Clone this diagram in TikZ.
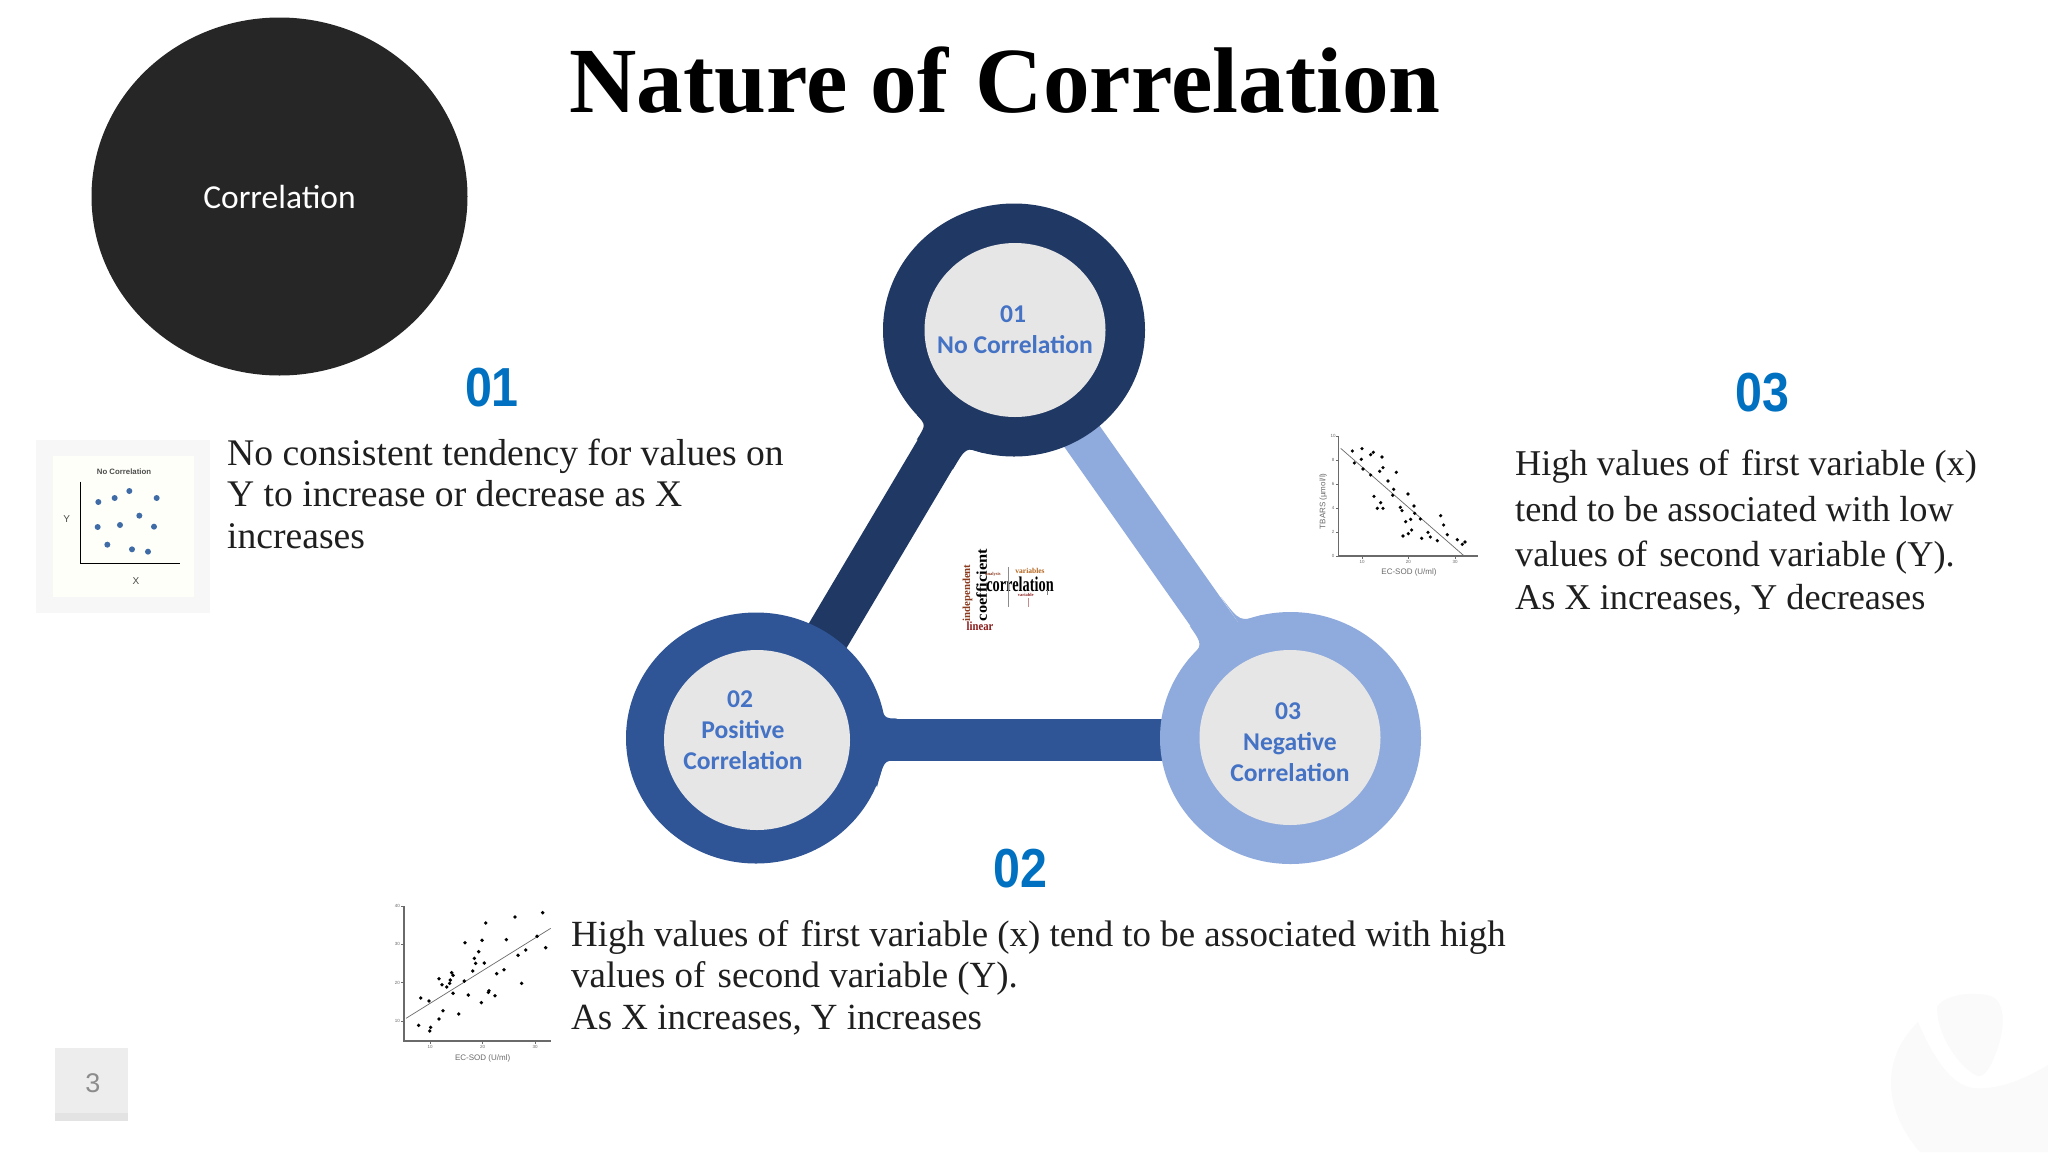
\documentclass[tikz,border=0pt]{standalone}
\usepackage{fontspec}
\setmainfont{Liberation Serif}
\newfontfamily\carl{Carlito}
\newfontfamily\libs{Liberation Sans}
\usetikzlibrary{shapes.geometric}
\pgfdeclarelayer{armlayer}
\pgfsetlayers{armlayer,main}
\definecolor{ringdark}{HTML}{203864}
\definecolor{ringmid}{HTML}{2F5597}
\definecolor{ringlight}{HTML}{8FAADC}
\definecolor{ringcore}{HTML}{E7E6E6}
\definecolor{ringtext}{HTML}{4472C4}
\definecolor{numblue}{HTML}{0070C0}
\definecolor{blackdisc}{HTML}{262626}
\definecolor{wmark}{HTML}{FAFAFA}
\definecolor{dotblue}{HTML}{3F6CA6}
\definecolor{plotgray}{HTML}{6A6A6A}
\definecolor{wcred}{HTML}{8B1A1A}
\definecolor{wcbrown}{HTML}{8B3A1E}
\definecolor{wcorange}{HTML}{B5651D}
\tikzset{
  ringnode/.style={ellipse,inner sep=0pt,outer sep=0pt},
  ringlabel/.style={font=\carl\bfseries\fontsize{25.6}{31}\selectfont,text=ringtext,align=center,inner sep=0pt},
  bignum/.style={font=\libs\bfseries\fontsize{55}{55}\selectfont,text=numblue,inner sep=0pt,xscale=.88,transform shape},
  bodytext/.style={text=black!88,align=left,anchor=north west,inner sep=0pt},
  plotaxis/.style={draw=plotgray,line width=1.3pt},
  ticklabel/.style={font=\libs\fontsize{4.5}{5}\selectfont,text=plotgray,inner sep=0pt},
  axistitle/.style={font=\libs\fontsize{8}{9}\selectfont,text=plotgray,inner sep=0pt},
  wcword/.style={font=\bfseries,inner sep=0pt},
}
\begin{document}
\begin{tikzpicture}[x=1pt,y=-1pt]
\useasboundingbox (0,0) rectangle (2048,1152);
\begin{pgfonlayer}{armlayer}
\fill[white] (0,0) rectangle (2048,1152);
\end{pgfonlayer}
% watermark
\fill[wmark] (1918,1022) .. controls (1900,1040) and (1891,1060) .. (1891,1083)
  .. controls (1891,1110) and (1905,1135) .. (1920,1152) -- (2048,1152) -- (2048,1065)
  .. controls (2020,1082) and (1995,1090) .. (1973,1088)
  .. controls (1950,1085) and (1932,1055) .. cycle;
\fill[wmark] (1937,1007) .. controls (1942,998) and (1960,993) .. (1975,994)
  .. controls (1990,994) and (1998,997) .. (2001,1008)
  .. controls (2005,1020) and (2002,1040) .. (1993,1060)
  .. controls (1988,1072) and (1982,1077) .. (1978,1076)
  .. controls (1965,1072) and (1937,1040) .. cycle;
% title
\node[font=\bfseries\fontsize{93.3}{93}\selectfont,inner sep=0pt] (title) at (1005,80) {Nature of\hspace{4pt} Correlation};
% black disc
\node[ringnode,fill=blackdisc,minimum width=376pt,minimum height=358pt,text=white,font=\carl\fontsize{33.5}{36}\selectfont] (disc) at (279.5,196.5) {Correlation};
% rings
\node[ringnode,fill=ringdark,minimum width=262pt,minimum height=253pt] (ringtop) at (1014,330) {};
\node[ringnode,fill=ringcore,minimum width=181pt,minimum height=174pt] (coretop) at (1015,330) {};
\node[ringnode,fill=ringmid,minimum width=260pt,minimum height=251pt] (ringleft) at (756,738) {};
\node[ringnode,fill=ringcore,minimum width=186pt,minimum height=180pt] (coreleft) at (757,740) {};
\node[ringnode,fill=ringlight,minimum width=261pt,minimum height=252pt] (ringright) at (1290.5,738) {};
\node[ringnode,fill=ringcore,minimum width=181pt,minimum height=175pt] (coreright) at (1290,737.5) {};
\begin{pgfonlayer}{armlayer}
\draw[ringlight,line width=41pt] ([shift={(-7,0)}]ringtop.center) -- ([shift={(4,0)}]ringright.center);
\draw[ringmid,line width=42pt] ([shift={(0,1.5)}]ringleft.center) -- ([shift={(0,1.5)}]ringright.center);
\draw[ringdark,line width=45pt] ([shift={(-5,0)}]ringtop.center) -- ([shift={(11,0)}]ringleft.center);
\fill[ringdark] (917,415) .. controls (926,425) .. (916.6,440) -- (940,430) -- cycle;
\fill[ringdark] (983,453) .. controls (966,447) .. (952.5,470) -- (960,435) -- cycle;
\fill[ringlight] (1221,597) .. controls (1240,622) .. (1262,615) -- (1250,640) -- cycle;
\fill[ringlight] (1189.7,626) .. controls (1203,645) .. (1188.4,660) -- (1222,640) -- cycle;
\fill[ringmid] (878,697) .. controls (884,718.5) .. (897,718.5) -- (897,730) -- (860,730) -- cycle;
\fill[ringmid] (877,787) .. controls (884,760.5) .. (897,760.5) -- (897,750) -- (860,750) -- cycle;
\end{pgfonlayer}
% ring labels
\node[ringlabel] (labtop) at (1015,330) {01\hspace*{4pt}\\No Correlation};
\node[ringlabel] (lableft) at (743,730) {02\hspace*{6pt}\\Positive\\Correlation};
\node[ringlabel] (labright) at (1290,742) {03\hspace*{4pt}\\Negative\\Correlation};
% big numbers
\node[bignum] (numa) at (492,388) {01};
\node[bignum] (numb) at (1020,868.5) {02};
\node[bignum] (numc) at (1762,393) {03};
% body text
\node[bodytext,font=\fontsize{37.6}{41.8}\selectfont] (texta) at (227,438.5) {No consistent tendency for values on\\Y to increase or decrease as X\\increases};
\node[bodytext,font=\fontsize{36.9}{41.8}\selectfont] (textb) at (571,920) {High values of\hspace{3pt} first variable (x) tend to be associated with high\\values of\hspace{3pt} second variable (Y).\\As X increases, Y increases};
\node[bodytext,font=\fontsize{36.3}{45.5}\selectfont] (textc) at (1515,450) {High values of\hspace{3pt} first variable (x)\\tend to be associated with low\\values of\hspace{3pt} second variable (Y).\\[-3pt]As X increases, Y decreases};
% page number
\fill[black!7] (55,1048) rectangle (128,1121);
\fill[black!11] (55,1113) rectangle (128,1121);
\node[font=\libs\fontsize{27}{27}\selectfont,text=black!45,inner sep=0pt] (pagenum) at (93,1083) {3};
% thumbnail 1
\fill[black!3] (36,440) rectangle (210,613);
\fill[yellow!2] (52.7,456) rectangle (194,597);
\node[font=\libs\bfseries\fontsize{7.8}{9}\selectfont,text=black!70,inner sep=0pt] (thaT) at (124,471.7) {No Correlation};
\node[font=\libs\fontsize{10}{11}\selectfont,text=black!70,inner sep=0pt] (thaY) at (66.7,519) {Y};
\node[font=\libs\fontsize{10}{11}\selectfont,text=black!70,inner sep=0pt] (thaX) at (136,580.7) {X};
\begin{scope}[shift={(20,420)},x=.33333pt,y=-.33333pt]
\draw[black,line width=1.5pt] (181,185) -- (181,430) -- (480,430);
\foreach \px/\py in {235/246,284/234,328/213,410/234,358/287,233/321,300/315,402/320,262/374,336/388,384/395}
  \fill[dotblue] (\px,\py) circle[radius=3pt];
\end{scope}
% thumbnail 3 (negative)
\begin{scope}[shift={(1300,420)},x=.33333pt,y=-.33333pt]
\draw[plotaxis] (116,48) -- (116,408) -- (535,408);
\draw[plotgray,line width=.7pt] (122,85) -- (495,410);
\foreach \py/\lab in {48/10,121/8,193/6,265/4,337/2,408/0}{
  \draw[plotaxis,line width=.6pt] (108,\py) -- (116,\py);
  \node[ticklabel] at (99,\py) {\lab};}
\foreach \px/\lab in {186/10,325/20,465/30}{
  \draw[plotaxis,line width=.6pt] (\px,408) -- (\px,416);
  \node[ticklabel] at (\px,426) {\lab};}
\node[axistitle,rotate=90] (thcY) at (70,244) {TBARS (µmol/l)};
\node[axistitle] (thcX) at (327,456) {EC-SOD (U/ml)};
\foreach \px/\py in {157/93,186/86,163/129,184/118,189/147,212/104,220/97,246/111,212/165,239/154,249/143,289/157,264/183,281/208,278/226,324/222,222/229,242/248,232/265,249/265,301/262,306/272,342/258,344/280,332/298,317/305,361/297,335/330,325/341,309/348,365/355,384/337,391/351,412/362,422/287,431/315,442/344,472/359,495/366,487/373}
  \fill[black] (\px,\py) circle[radius=1.8pt];
\end{scope}
% thumbnail 2 (positive)
\begin{scope}[shift={(380,890)},x=.33333pt,y=-.33333pt]
\draw[plotaxis] (72,48) -- (72,453) -- (512,453);
\draw[plotgray,line width=.7pt] (78,385) -- (512,115);
\foreach \py/\lab in {48/40,163/30,278/20,393/10}{
  \draw[plotaxis,line width=.6pt] (64,\py) -- (72,\py);
  \node[ticklabel] at (52,\py) {\lab};}
\foreach \px/\lab in {150/10,308/20,465/30}{
  \draw[plotaxis,line width=.6pt] (\px,453) -- (\px,461);
  \node[ticklabel] at (\px,471) {\lab};}
\node[axistitle] (thbX) at (308,505) {EC-SOD (U/ml)};
\foreach \px/\py in {122/324,147/333,116/406,152/412,149/423,177/387,189/362,177/266,186/284,200/291,209/280,211/270,215/248,219/256,219/310,236/372,253/273,255/158,265/315,278/243,283/205,287/220,296/185,306/151,313/219,317/99,304/338,325/307,327/302,345/317,350/251,372/239,379/149,405/81,414/196,425/280,437/180,471/139,488/68,497/173}
  \fill[black] (\px,\py) circle[radius=1.9pt];
\end{scope}
% word cloud
\node[wcword,font=\bfseries\fontsize{15}{16}\selectfont,text=black,rotate=90,xscale=1.1,transform shape] (wcB) at (981.7,585) {coefficient};
\node[wcword,font=\bfseries\fontsize{21}{22}\selectfont,xscale=.683,transform shape] (wcA) at (1020,584) {correlation};
\node[wcword,font=\bfseries\fontsize{10.8}{11}\selectfont,text=wcbrown,rotate=90] (wcC) at (967.5,593) {independent};
\node[wcword,font=\bfseries\fontsize{12.5}{13}\selectfont,text=wcred,xscale=.85,transform shape] (wcD) at (980,626) {linear};
\node[wcword,font=\bfseries\fontsize{7.5}{8}\selectfont,text=wcorange] (wcE) at (1030,571) {variables};
\node[wcword,font=\bfseries\fontsize{4.5}{5}\selectfont,text=wcbrown] (wcF) at (993,574) {analysis};
\node[wcword,font=\bfseries\fontsize{4.5}{5}\selectfont,text=wcred] (wcG) at (1025.7,595) {variable};
\draw[black!45,line width=.6pt] (1008.7,567) -- (1008.7,607);
\draw[wcred!50,line width=.6pt] (1028.7,598) -- (1028.7,607);
\draw[black!50,line width=.6pt] (1047.7,590) -- (1047.7,595);
\end{tikzpicture}
\end{document}
